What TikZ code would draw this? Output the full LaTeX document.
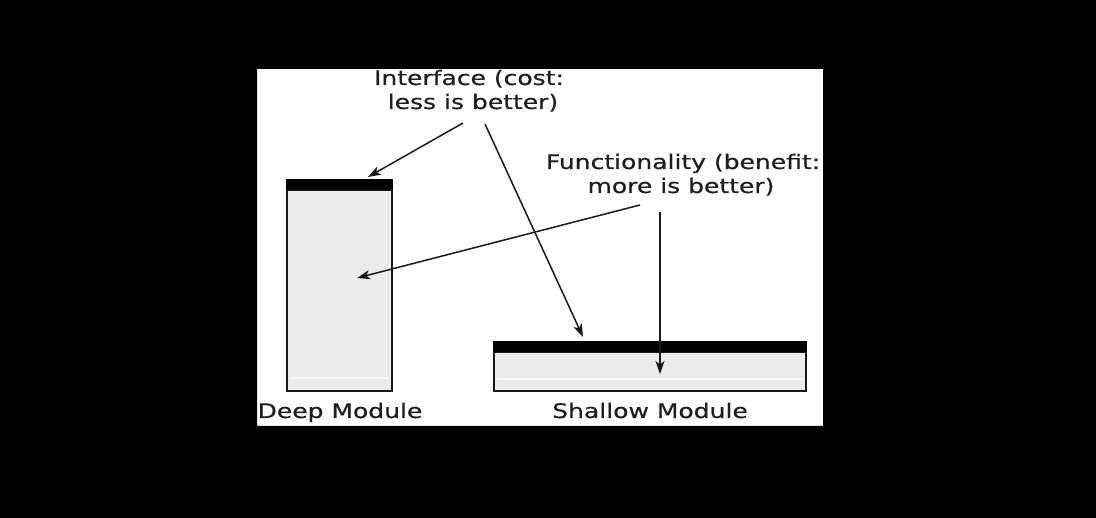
\documentclass[tikz,border=0pt]{standalone}
\usepackage{fontspec}
\setmainfont{DejaVu Sans}
\newfontfamily\lblfont[FakeBold=0.5]{DejaVu Sans}
\usetikzlibrary{arrows.meta}
\newcommand{\wx}[1]{\scalebox{1.25}[1]{#1}}
\begin{document}
\begin{tikzpicture}[x=1pt,y=-1pt,
  lbl/.style={anchor=base, inner sep=0pt, font=\lblfont\fontsize{20}{24}\selectfont, text=black!88},
  body/.style={draw=black!90, line width=1.6pt, fill=black!8},
  bar/.style={fill=black},
  arr/.style={black!90, line width=1.5pt, -{Stealth[length=13pt,width=9pt,inset=3.5pt]}}]
\useasboundingbox (0,0) rectangle (1096,518);
\fill[black] (0,0) rectangle (1096,518);
\fill[white] (257,69) rectangle (823,426);
% deep module
\draw[body] (287,190) rectangle (392,391);
\draw[white!60!black!8, line width=1.5pt] (290,378) -- (389,378);
\fill[bar] (286.2,179) rectangle (392.8,190);
\node (deepbody) at (339.5,290) {};
% shallow module
\draw[body] (494,352) rectangle (806,391);
\draw[white!60!black!8, line width=1.5pt] (497,379) -- (803,379);
\fill[bar] (493.2,341) rectangle (806.8,352);
\node (shallowbody) at (650,371) {};
% labels
\node[lbl] (if1) at (469,85) {\wx{Interface (cost:}};
\node[lbl] (if2) at (473,109) {\wx{less is better)}};
\node[lbl] (fn1) at (683,169) {\wx{Functionality (benefit:}};
\node[lbl] (fn2) at (681,193) {\wx{more is better)}};
\node[lbl] (deep) at (340,418) {\wx{Deep Module}};
\node[lbl] (shallow) at (650,418) {\wx{Shallow Module}};
% connector ends
\coordinate (a1s) at (463,123);
\coordinate (a1e) at (368,177);
\coordinate (a2s) at (485,124);
\coordinate (a2e) at (583,337);
\coordinate (a3s) at (640,205);
\coordinate (a3e) at (357,278);
\coordinate (a4s) at (660,212);
\coordinate (a4e) at (660,374);
\draw[arr] (a1s) -- (a1e);
\draw[arr] (a2s) -- (a2e);
\draw[arr] (a3s) -- (a3e);
\draw[arr] (a4s) -- (a4e);
% outer frame clipping the panel
\fill[black, even odd rule] (0,0) rectangle (1096,518) (257,69) rectangle (823,426);
\end{tikzpicture}
\end{document}
